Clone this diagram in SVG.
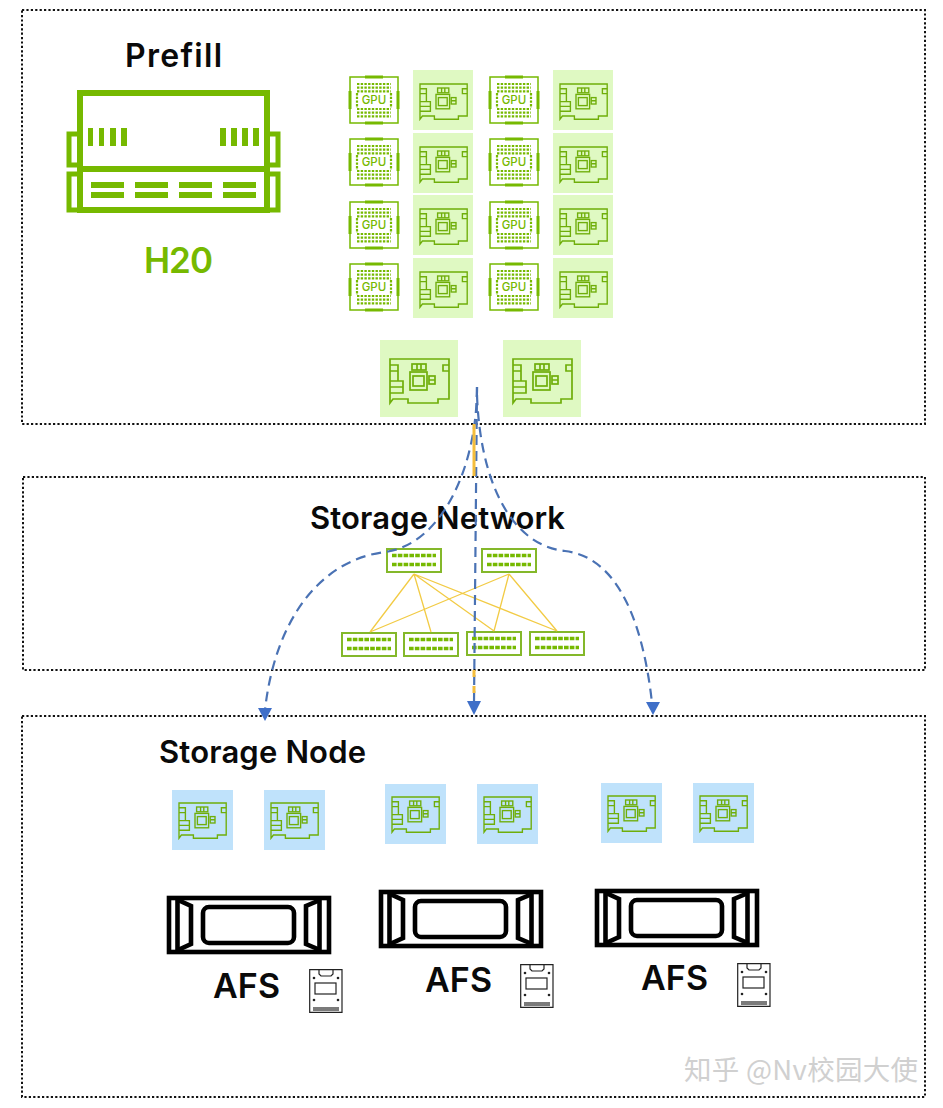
<svg xmlns="http://www.w3.org/2000/svg" width="943" height="1108" viewBox="0 0 943 1108">
<style>
text{font-family:"Inter","Noto Sans","Liberation Sans",sans-serif}
.frame{fill:none;stroke:#111;stroke-width:2;stroke-dasharray:2.200 2.200}
.label{font-size:31px;font-weight:600;fill:#0a0a0a}
.afs{font-size:34px;font-weight:600;fill:#0a0a0a}
.h20{font-size:35px;font-weight:600;fill:#76b900}
.gpu-t{font-size:11.500px;font-weight:500;fill:#76b900;text-anchor:middle}
.gt{fill:#dff9c2}
.bt{fill:#bfe2fb}
.wm{font-family:"Noto Sans CJK SC","Noto Sans",sans-serif;font-size:27.500px;fill:#d0d0d0}
.ln{fill:none;stroke:#f2cb45;stroke-width:1.300}
.yl{fill:none;stroke:#f4bd3c;stroke-width:3}
.dash{fill:none;stroke:#4a72b4;stroke-width:2.200;stroke-dasharray:10 6}
.head{fill:#3f6fc8}
.card *{fill:none;stroke:#6fae0a;stroke-width:1.700}
.gpu *{fill:none;stroke:#76b900}
.sw{fill:#fff;stroke:#84b82a;stroke-width:2}
.swd{fill:none;stroke:#76b900;stroke-width:3.600;stroke-dasharray:4.600 1.200}
.ch *{fill:none;stroke:#000;stroke-width:4.600}
.ssd *{fill:none;stroke:#222;stroke-width:1.200}
.ssd .d{fill:#222;stroke:none}
.g{fill:#76b900}
</style>
<defs>
<symbol id="card" overflow="visible" class="card">
<path d="M59,0H0V44L3,40H18V44H48V40H59Z"/><path d="M0,6H8V22H0M0,12H8M0,22H13V34H0M0,28H13"/><rect x="22" y="5" width="14" height="6"/><path d="M27,5V11M31,5V11"/><rect x="20" y="13" width="17" height="18"/><rect x="23" y="17" width="11" height="10"/><rect x="39" y="17" width="6" height="8"/><path d="M39,21H45M59,6H53V12H59"/>
</symbol>
<symbol id="gpu" overflow="visible" class="gpu">
<rect x="1" y="1" width="48" height="46" stroke-width="1.500"/>
<path d="M16,1H34M16,47H34M1,15V33M49,15V33" stroke-width="3"/>
<path d="M8,8H42M8,11.700H42M8,15.400H42M8,33H42M8,36.700H42M8,40.400H42" stroke-width="2.200" stroke-dasharray="2.400 1.300"/>
<path d="M8,17V32M42,17V32" stroke-width="2.200" stroke-dasharray="2.400 1.300"/>
</symbol>
<symbol id="chassis" overflow="visible" class="ch">
<rect x="2" y="2" width="160" height="54"/><rect x="36" y="11" width="91" height="36" rx="6"/><path d="M10.500,2V56M152.500,2V56" stroke-width="3"/><path d="M11,4L24,10V48L11,54M153,4L139,10V48L153,54" stroke-width="3.800"/>
</symbol>
<symbol id="ssd" overflow="visible" class="ssd">
<path d="M0.700,0.700H33V43.300H0.700Z"/><path d="M10,1V5L12,7H22L24,5V1"/><rect x="6" y="14" width="21" height="11"/><path d="M5,42V38M7,42V38M9,42V38M11,42V38M13,42V38M15,42V38M17,42V38M19,42V38M21,42V38M23,42V38M25,42V38M27,42V38M29,42V38" stroke-width=".900"/><circle class="d" cx="5" cy="9" r="1.300"/><circle class="d" cx="29" cy="9" r="1.300"/><circle class="d" cx="5" cy="31" r="1.300"/><circle class="d" cx="29" cy="31" r="1.300"/>
</symbol>
<symbol id="switch" overflow="visible">
<rect class="sw" x="1" y="1" width="54" height="23"/><path class="swd" d="M6,7.500H50M6,16.500H50"/>
</symbol>
</defs>
<rect width="943" height="1108" fill="#fff"/>

<g id="frame-prefill"><rect class="frame" x="22" y="10" width="903" height="414"/></g>
<g id="frame-network"><rect class="frame" x="23" y="477" width="902" height="193"/></g>
<g id="frame-storage"><rect class="frame" x="22" y="716" width="903" height="381"/></g>

<g id="prefill-label"><text class="label" x="125" y="67" style="font-size:32px" textLength="97">Prefill</text></g>
<g id="h20">
<rect x="80" y="93" width="187" height="117" fill="none" stroke="#76b900" stroke-width="6"/>
<path d="M77,169H270" stroke="#76b900" stroke-width="6"/>
<path d="M77,134H69V165H77M77,174H69V210H77M270,134H278V165H270M270,174H278V210H270" fill="none" stroke="#76b900" stroke-width="5"/>
<path class="g" d="M88,128h5v18h-5zM99,128h5v18h-5zM110,128h6v18h-6zM121,128h6v18h-6zM220,128h6v18h-6zM231,128h6v18h-6zM242,128h6v18h-6zM253,128h6v18h-6zM91,182h33v6h-33zM91,192h33v6h-33zM135,182h33v6h-33zM135,192h33v6h-33zM179,182h33v6h-33zM179,192h33v6h-33zM223,182h33v6h-33zM223,192h33v6h-33z"/>
<text class="h20" x="144" y="273" textLength="69">H20</text>
</g>

<g id="gpu-1-1"><use href="#gpu" x="349" y="76"/><text class="gpu-t" x="374" y="103.500">GPU</text></g>
<g id="gpu-1-2"><use href="#gpu" x="349" y="138"/><text class="gpu-t" x="374" y="165.500">GPU</text></g>
<g id="gpu-1-3"><use href="#gpu" x="349" y="201"/><text class="gpu-t" x="374" y="228.500">GPU</text></g>
<g id="gpu-1-4"><use href="#gpu" x="349" y="263"/><text class="gpu-t" x="374" y="290.500">GPU</text></g>
<g id="gpu-2-1"><use href="#gpu" x="489" y="76"/><text class="gpu-t" x="514" y="103.500">GPU</text></g>
<g id="gpu-2-2"><use href="#gpu" x="489" y="138"/><text class="gpu-t" x="514" y="165.500">GPU</text></g>
<g id="gpu-2-3"><use href="#gpu" x="489" y="201"/><text class="gpu-t" x="514" y="228.500">GPU</text></g>
<g id="gpu-2-4"><use href="#gpu" x="489" y="263"/><text class="gpu-t" x="514" y="290.500">GPU</text></g>

<g id="nic-1-1"><rect class="gt" x="413" y="70" width="60" height="60"/><use href="#card" transform="translate(420 84) scale(.8)"/></g>
<g id="nic-1-2"><rect class="gt" x="413" y="133" width="60" height="60"/><use href="#card" transform="translate(420 147) scale(.8)"/></g>
<g id="nic-1-3"><rect class="gt" x="413" y="195" width="60" height="60"/><use href="#card" transform="translate(420 209) scale(.8)"/></g>
<g id="nic-1-4"><rect class="gt" x="413" y="258" width="60" height="60"/><use href="#card" transform="translate(420 272) scale(.8)"/></g>
<g id="nic-2-1"><rect class="gt" x="553" y="70" width="60" height="60"/><use href="#card" transform="translate(560 84) scale(.8)"/></g>
<g id="nic-2-2"><rect class="gt" x="553" y="133" width="60" height="60"/><use href="#card" transform="translate(560 147) scale(.8)"/></g>
<g id="nic-2-3"><rect class="gt" x="553" y="195" width="60" height="60"/><use href="#card" transform="translate(560 209) scale(.8)"/></g>
<g id="nic-2-4"><rect class="gt" x="553" y="258" width="60" height="60"/><use href="#card" transform="translate(560 272) scale(.8)"/></g>
<g id="nic-large-1"><rect class="gt" x="380" y="340" width="78" height="77"/><use href="#card" x="390" y="359"/></g>
<g id="nic-large-2"><rect class="gt" x="503" y="340" width="78" height="77"/><use href="#card" x="513" y="359"/></g>

<g id="network-label"><text class="label" x="310" y="529" textLength="255">Storage Network</text></g>

<g id="sw-top-1"><use href="#switch" x="386" y="548"/></g>
<g id="sw-top-2"><use href="#switch" x="481" y="548"/></g>
<g id="sw-bot-1"><use href="#switch" x="341" y="632"/></g>
<g id="sw-bot-2"><use href="#switch" x="403" y="632"/></g>
<g id="sw-bot-3"><use href="#switch" x="466" y="631"/></g>
<g id="sw-bot-4"><use href="#switch" x="529" y="631"/></g>

<g id="connectors">
<path class="ln" d="M414,574L370,632M414,574L431,632M414,574L494,631M414,574L557,631M509,574L370,632M509,574L494,631M509,574L557,631"/>
<path class="dash" d="M477,387C477,470 440,545 385,552C320,560 275,620 265,710"/>
<path class="dash" d="M477,387L474,703"/>
<path class="dash" d="M477,395C480,480 510,545 565,551C625,558 645,640 652,703"/>
<path class="yl" d="M474,424V476"/>
<path class="yl" d="M474,670V701" stroke-dasharray="7 9"/>
<path class="head" d="M258,708H272L265,721Z"/>
<path class="head" d="M467,701H481L474,715Z"/>
<path class="head" d="M646,702H660L653,715Z"/>
</g>

<g id="storage-label"><text class="label" x="159" y="763" textLength="207">Storage Node</text></g>

<g id="sn-nic-1"><rect class="bt" x="172" y="790" width="61" height="60"/><use href="#card" transform="translate(179 803) scale(.8)"/></g>
<g id="sn-nic-2"><rect class="bt" x="264" y="790" width="61" height="60"/><use href="#card" transform="translate(271 803) scale(.8)"/></g>
<g id="sn-nic-3"><rect class="bt" x="385" y="784" width="61" height="60"/><use href="#card" transform="translate(392 797) scale(.8)"/></g>
<g id="sn-nic-4"><rect class="bt" x="477" y="784" width="61" height="60"/><use href="#card" transform="translate(484 797) scale(.8)"/></g>
<g id="sn-nic-5"><rect class="bt" x="601" y="783" width="61" height="60"/><use href="#card" transform="translate(608 796) scale(.8)"/></g>
<g id="sn-nic-6"><rect class="bt" x="693" y="783" width="61" height="60"/><use href="#card" transform="translate(700 796) scale(.8)"/></g>

<g id="afs-1"><use href="#chassis" x="167" y="896"/><text class="afs" x="213" y="998" textLength="67">AFS</text><use href="#ssd" x="309" y="969"/></g>
<g id="afs-2"><use href="#chassis" x="379" y="890"/><text class="afs" x="425" y="992" textLength="67">AFS</text><use href="#ssd" x="520" y="964"/></g>
<g id="afs-3"><use href="#chassis" x="595" y="889"/><text class="afs" x="641" y="990" textLength="67">AFS</text><use href="#ssd" x="737" y="963"/></g>

<text class="wm" x="684" y="1080" textLength="234">知乎 @Nv校园大使</text>
</svg>
